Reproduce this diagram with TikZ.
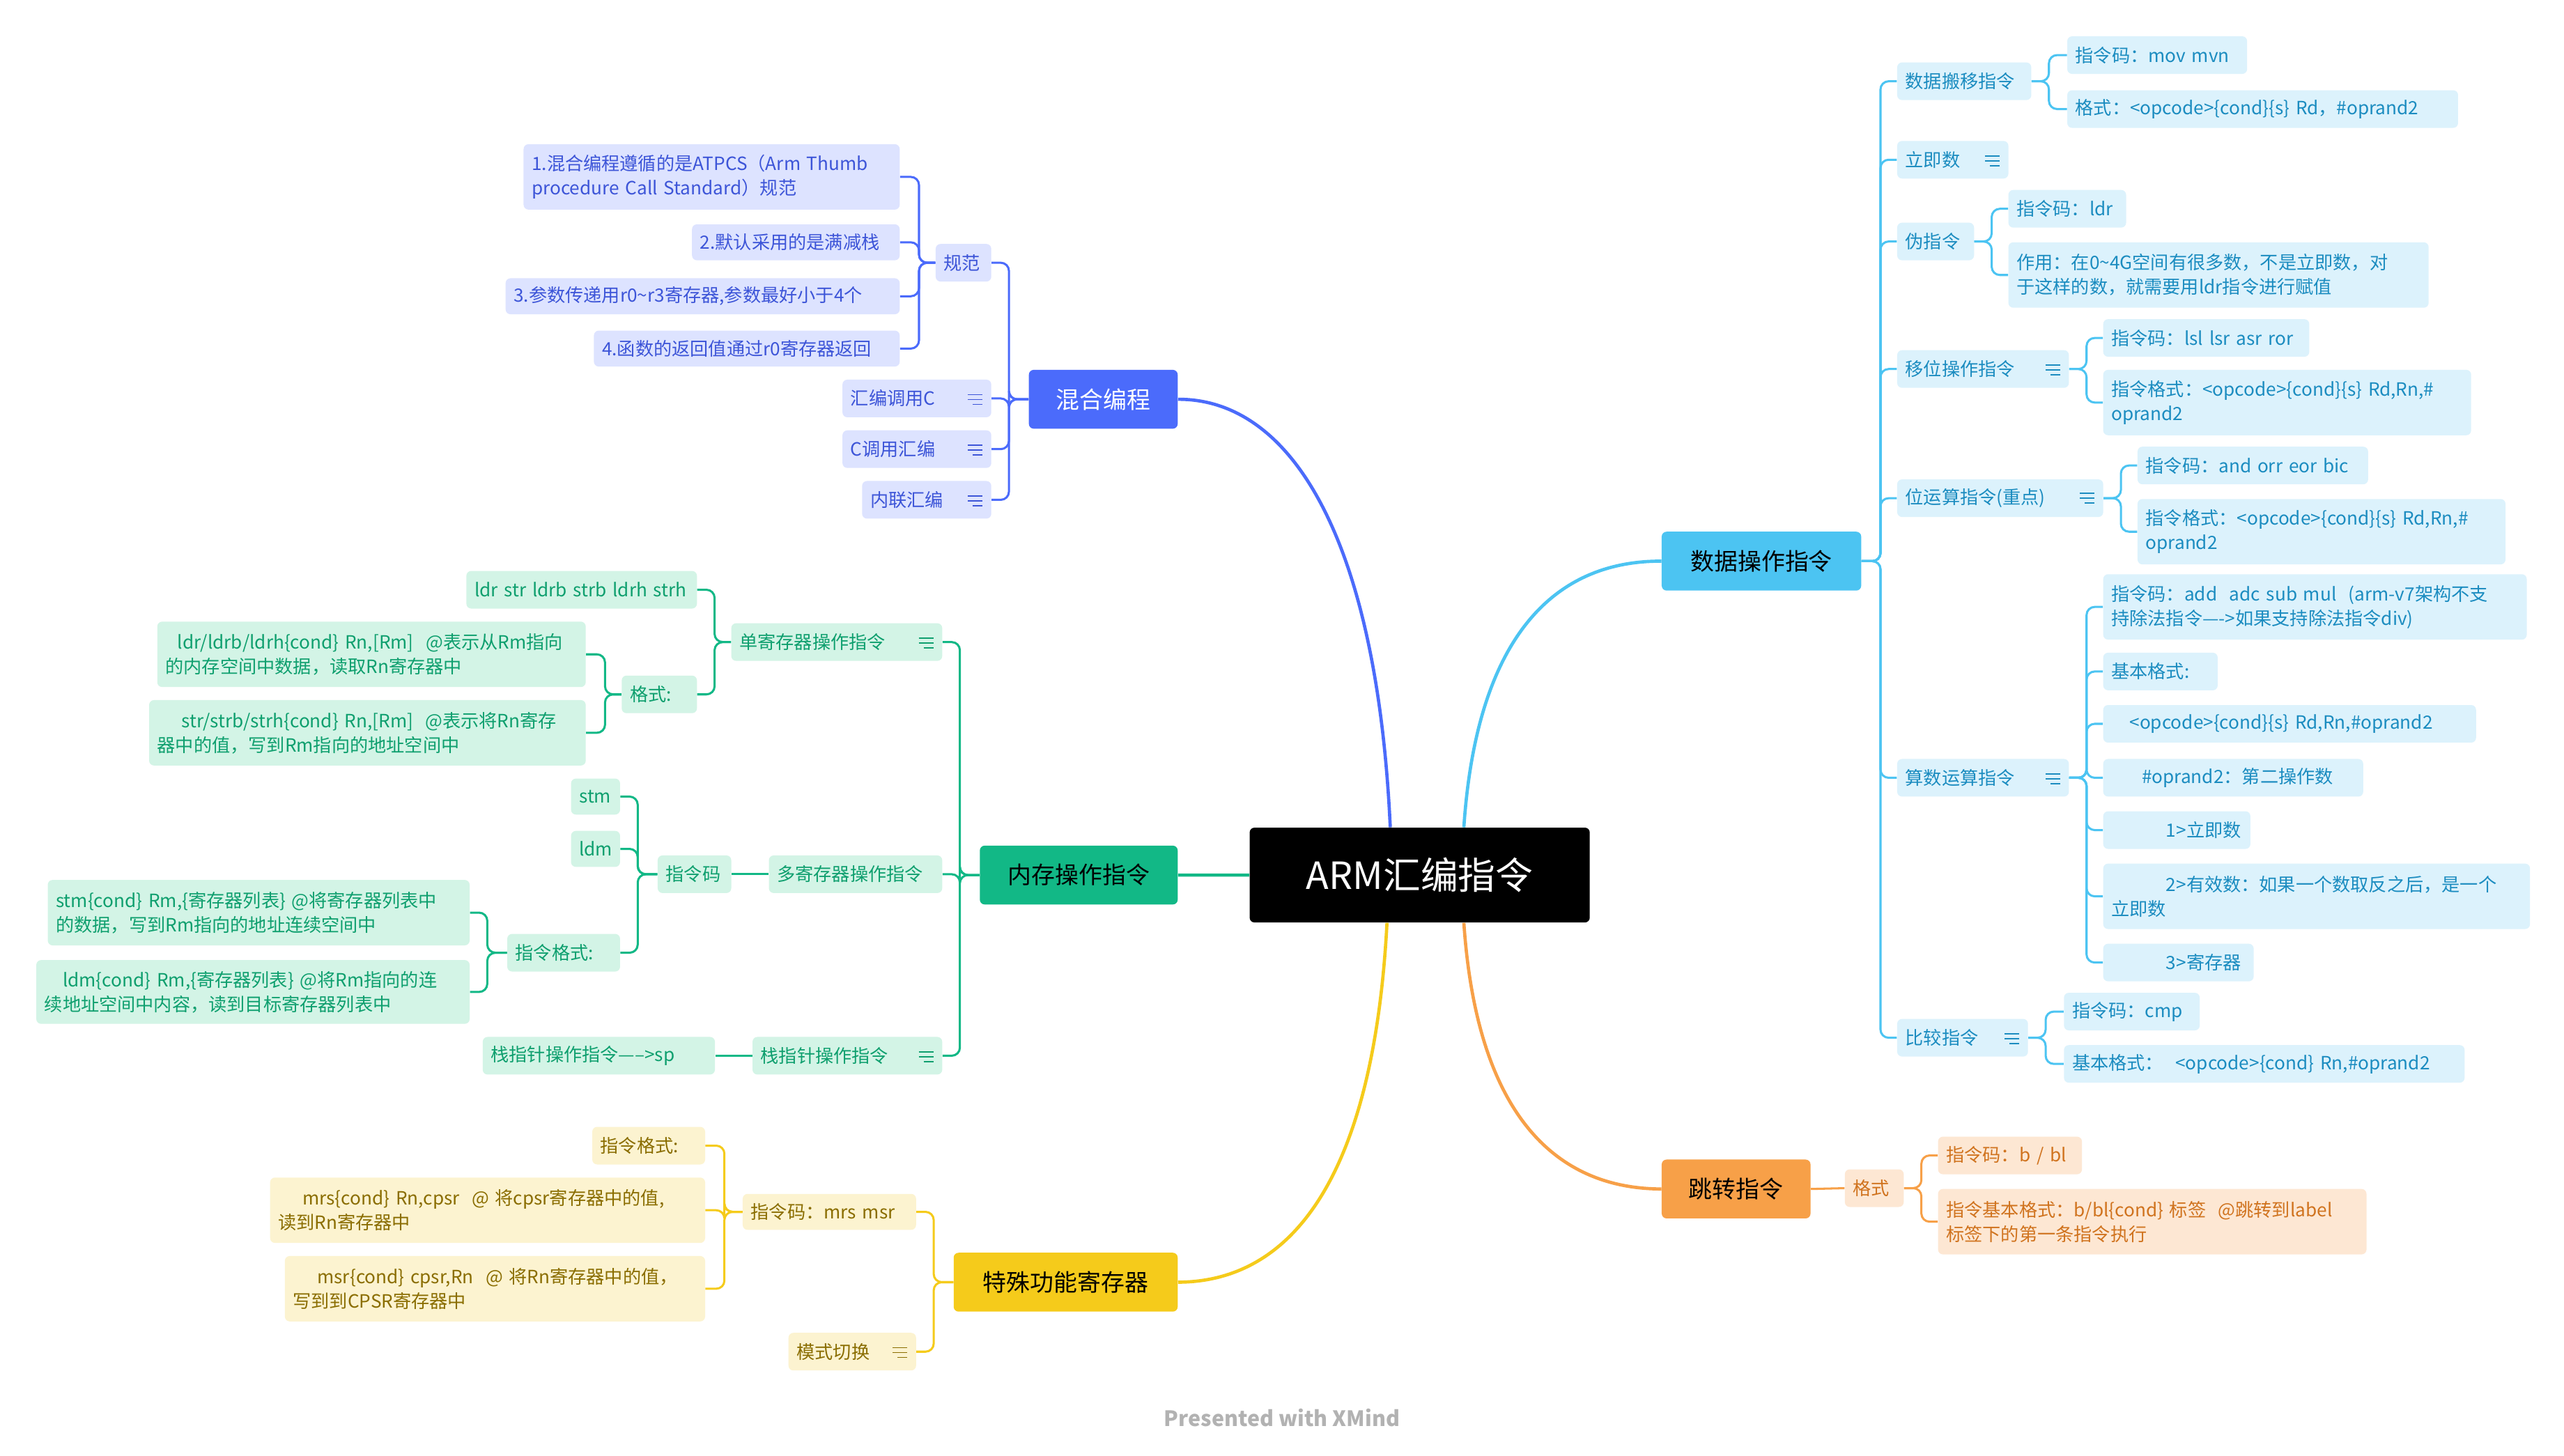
\documentclass[tikz,border=0pt]{standalone}
\usepackage{fontspec}
\setmainfont{Noto Sans CJK SC}
\usetikzlibrary{calc}
\definecolor{bM}{HTML}{4B6BFB}\definecolor{bF}{HTML}{DDE3FF}\definecolor{bT}{HTML}{3D55D8}
\definecolor{gM}{HTML}{12B886}\definecolor{gF}{HTML}{D3F4E6}\definecolor{gT}{HTML}{0E9F6E}
\definecolor{yM}{HTML}{F5CB1B}\definecolor{yF}{HTML}{FCF3D0}\definecolor{yT}{HTML}{8A6D00}
\definecolor{cM}{HTML}{4CC4F2}\definecolor{cF}{HTML}{DCF2FC}\definecolor{cT}{HTML}{1B8CC0}
\definecolor{oM}{HTML}{F7A048}\definecolor{oF}{HTML}{FDE7D3}\definecolor{oT}{HTML}{D0731E}
\newcommand\mi{\tikz[baseline=-0.6ex]{\draw[line width=0.7pt] (0,3pt)--(9pt,3pt) (0,0)--(9pt,0) (3pt,-3pt)--(9pt,-3pt);}}
\newcommand\bx[7]{\pgfmathsetmacro\tw{#4-#2-10}\pgfmathsetmacro\bh{#5-#3}%
  \node[#6,anchor=north west,text width=\tw bp,minimum height=\bh bp] (#1) at (#2,#3) {#7};}
\tikzset{
 sub/.style={rounded corners=3pt,inner xsep=5bp,inner ysep=0pt,align=left,font=\fontsize{11.2}{15}\selectfont},
 sb/.style={sub,fill=bF,text=bT}, sg/.style={sub,fill=gF,text=gT}, sy/.style={sub,fill=yF,text=yT},
 sc/.style={sub,fill=cF,text=cT}, so/.style={sub,fill=oF,text=oT},
 mainb/.style={rounded corners=3pt,inner sep=0pt,align=center,font=\fontsize{14.5}{17}\selectfont},
 lb/.style={draw=bM,line width=1.3pt,rounded corners=5pt},
 lg/.style={draw=gM,line width=1.3pt,rounded corners=5pt},
 ly/.style={draw=yM,line width=1.3pt,rounded corners=5pt},
 lc/.style={draw=cM,line width=1.3pt,rounded corners=5pt},
 lo/.style={draw=oM,line width=1.3pt,rounded corners=5pt},
}
\newcommand\lkl[4]{\draw[#4] (#1.west) -- (#1.west -| #3,0) |- (#2.east);}
\newcommand\lkr[4]{\draw[#4] (#1.east) -- (#1.east -| #3,0) |- (#2.west);}
\begin{document}
\begin{tikzpicture}[x=1bp,y=-1bp]
\useasboundingbox[fill=white] (0,0) rectangle (1568,890.5);
\node[fill=black,text=white,minimum width=208bp,minimum height=58bp,rounded corners=3pt,font=\fontsize{23}{26}\selectfont,anchor=north west] (c) at (764,506) {ARM汇编指令};
\node[mainb,fill=bM,text=white,minimum width=91bp,minimum height=36bp,anchor=north west] (hb) at (629,226) {混合编程};
\node[mainb,fill=gM,text=black,minimum width=121bp,minimum height=36bp,anchor=north west] (nc) at (599,517) {内存操作指令};
\node[mainb,fill=yM,text=black,minimum width=137bp,minimum height=36bp,anchor=north west] (ts) at (583,766) {特殊功能寄存器};
\node[mainb,fill=cM,text=black,minimum width=122bp,minimum height=36bp,anchor=north west] (sj) at (1016,325) {数据操作指令};
\node[mainb,fill=oM,text=black,minimum width=91bp,minimum height=36bp,anchor=north west] (tz) at (1016,709) {跳转指令};
\draw[bM,line width=2pt] ($(c.north)+(-18,0)$) .. controls (842,330) and (790,244) .. (hb.east);
\draw[cM,line width=2pt] ($(c.north)+(27,0)$) .. controls (903,390) and (950,343) .. (sj.west);
\draw[yM,line width=2pt] ($(c.south)+(-20,0)$) .. controls (840,720) and (790,784) .. (ts.east);
\draw[oM,line width=2pt] ($(c.south)+(27,0)$) .. controls (903,680) and (950,727) .. (tz.west);
\draw[gM,line width=2pt] (c.west) -- (nc.east);
% ---- 混合编程
\bx{gf}{572}{149}{606}{172}{sb}{规范}
\bx{h1}{515}{232}{606}{255}{sb}{汇编调用C\hfill\mi}
\bx{h2}{515}{263}{606}{286}{sb}{C调用汇编\hfill\mi}
\bx{h3}{527}{294}{606}{317}{sb}{内联汇编\hfill\mi}
\bx{g1}{320}{88}{550}{128}{sb}{1.混合编程遵循的是ATPCS（Arm Thumb\\procedure Call Standard）规范}
\bx{g2}{423}{137}{550}{159}{sb}{2.默认采用的是满减栈}
\bx{g3}{309}{170}{550}{192}{sb}{3.参数传递用r0\char`~r3寄存器,参数最好小于4个}
\bx{g4}{363}{202}{550}{224}{sb}{4.函数的返回值通过r0寄存器返回}
\foreach \n in {gf,h1,h2,h3}{\lkl{hb}{\n}{617}{lb}}
\foreach \n in {g1,g2,g3,g4}{\lkl{gf}{\n}{562}{lb}}
% ---- 内存操作指令
\bx{d1}{447}{381}{576}{404}{sg}{单寄存器操作指令\hfill\mi}
\bx{d2}{470}{523}{576}{546}{sg}{多寄存器操作指令}
\bx{d3}{460}{634}{576}{657}{sg}{栈指针操作指令\hfill\mi}
\foreach \n in {d1,d2,d3}{\lkl{nc}{\n}{587}{lg}}
\bx{e1}{285}{349}{426}{372}{sg}{ldr str ldrb strb ldrh strh}
\bx{e2}{380}{413}{426}{436}{sg}{格式:}
\foreach \n in {e1,e2}{\lkl{d1}{\n}{437}{lg}}
\bx{f1}{96}{380}{358}{420}{sg}{\ \ ldr/ldrb/ldrh\{cond\} Rn,[Rm]\ \ @表示从Rm指向\\的内存空间中数据，读取Rn寄存器中}
\bx{f2}{91}{428}{358}{468}{sg}{\ \ \ \ str/strb/strh\{cond\} Rn,[Rm]\ \ @表示将Rn寄存\\器中的值，写到Rm指向的地址空间中}
\foreach \n in {f1,f2}{\lkl{e2}{\n}{370}{lg}}
\bx{k0}{402}{523}{447}{546}{sg}{指令码}
\draw[lg] (d2.west) -- (k0.east);
\bx{k1}{349}{476}{379}{498}{sg}{stm}
\bx{k2}{349}{508}{379}{530}{sg}{ldm}
\bx{k3}{310}{571}{379}{594}{sg}{指令格式:}
\foreach \n in {k1,k2,k3}{\lkl{k0}{\n}{390}{lg}}
\bx{m1}{29}{538}{287}{578}{sg}{stm\{cond\} Rm,\{寄存器列表\} @将寄存器列表中\\的数据，写到Rm指向的地址连续空间中}
\bx{m2}{22}{587}{287}{626}{sg}{\ \ \ ldm\{cond\} Rm,\{寄存器列表\} @将Rm指向的连\\续地址空间中内容，读到目标寄存器列表中}
\foreach \n in {m1,m2}{\lkl{k3}{\n}{298}{lg}}
\bx{s1}{295}{634}{437}{657}{sg}{栈指针操作指令----->sp}
\draw[lg] (d3.west) -- (s1.east);
% ---- 特殊功能寄存器
\bx{t1}{454}{730}{560}{752}{sy}{指令码：mrs msr}
\bx{t2}{482}{815}{560}{838}{sy}{模式切换\hfill\mi}
\foreach \n in {t1,t2}{\lkl{ts}{\n}{571}{ly}}
\bx{u1}{362}{689}{431}{712}{sy}{指令格式:}
\bx{u2}{165}{720}{431}{760}{sy}{\ \ \ \ mrs\{cond\} Rn,cpsr\ \ @ 将cpsr寄存器中的值,\\读到Rn寄存器中}
\bx{u3}{174}{768}{431}{808}{sy}{\ \ \ \ msr\{cond\} cpsr,Rn\ \ @ 将Rn寄存器中的值，\\写到到CPSR寄存器中}
\foreach \n in {u1,u2,u3}{\lkl{t1}{\n}{443}{ly}}
% ---- 数据操作指令
\bx{a1}{1160}{38}{1242}{61}{sc}{数据搬移指令}
\bx{a2}{1160}{86}{1228}{109}{sc}{立即数\hfill\mi}
\bx{a3}{1160}{136}{1207}{159}{sc}{伪指令}
\bx{a4}{1160}{214}{1265}{237}{sc}{移位操作指令\hfill\mi}
\bx{a5}{1160}{293}{1286}{316}{sc}{位运算指令(重点)\hfill\mi}
\bx{a6}{1160}{464}{1265}{487}{sc}{算数运算指令\hfill\mi}
\bx{a7}{1160}{623}{1240}{646}{sc}{比较指令\hfill\mi}
\foreach \n in {a1,a2,a3,a4,a5,a6,a7}{\lkr{sj}{\n}{1150}{lc}}
\bx{b1}{1264}{22}{1374}{45}{sc}{指令码：mov mvn}
\bx{b2}{1264}{55}{1503}{78}{sc}{格式：<opcode>\{cond\}\{s\} Rd，\#oprand2}
\foreach \n in {b1,b2}{\lkr{a1}{\n}{1253}{lc}}
\bx{p1}{1228}{116}{1300}{139}{sc}{指令码：ldr}
\bx{p2}{1228}{148}{1485}{188}{sc}{作用：在0\char`~4G空间有很多数，不是立即数，对\\于这样的数，就需要用ldr指令进行赋值}
\foreach \n in {p1,p2}{\lkr{a3}{\n}{1218}{lc}}
\bx{q1}{1286}{195}{1412}{218}{sc}{指令码：lsl lsr asr ror}
\bx{q2}{1286}{226}{1511}{266}{sc}{指令格式：<opcode>\{cond\}\{s\} Rd,Rn,\#\\oprand2}
\foreach \n in {q1,q2}{\lkr{a4}{\n}{1276}{lc}}
\bx{r1}{1307}{273}{1448}{296}{sc}{指令码：and orr eor bic}
\bx{r2}{1307}{305}{1532}{345}{sc}{指令格式：<opcode>\{cond\}\{s\} Rd,Rn,\#\\oprand2}
\foreach \n in {r1,r2}{\lkr{a5}{\n}{1297}{lc}}
\bx{v1}{1286}{351}{1545}{391}{sc}{指令码：add\ \ adc sub mul\ \ (arm-v7架构不支\\持除法指令---->如果支持除法指令div)}
\bx{v2}{1286}{399}{1356}{422}{sc}{基本格式:}
\bx{v3}{1286}{431}{1514}{454}{sc}{\ \ \ <opcode>\{cond\}\{s\} Rd,Rn,\#oprand2}
\bx{v4}{1286}{464}{1445}{487}{sc}{\ \ \ \ \ \#oprand2：第二操作数}
\bx{v5}{1286}{496}{1376}{519}{sc}{\ \ \ \ \ \ \ \ \ 1>立即数}
\bx{v6}{1286}{528}{1547}{568}{sc}{\ \ \ \ \ \ \ \ \ 2>有效数：如果一个数取反之后，是一个\\立即数}
\bx{v7}{1286}{577}{1378}{600}{sc}{\ \ \ \ \ \ \ \ \ 3>寄存器}
\foreach \n in {v1,v2,v3,v4,v5,v6,v7}{\lkr{a6}{\n}{1276}{lc}}
\bx{w1}{1262}{607}{1345}{630}{sc}{指令码：cmp}
\bx{w2}{1262}{639}{1507}{662}{sc}{基本格式：\ \ <opcode>\{cond\} Rn,\#oprand2}
\foreach \n in {w1,w2}{\lkr{a7}{\n}{1251}{lc}}
% ---- 跳转指令
\bx{j0}{1128}{715}{1164}{738}{so}{格式}
\draw[lo] (tz.east) -- (j0.west);
\bx{j1}{1185}{695}{1273}{718}{so}{指令码：b / bl}
\bx{j2}{1185}{727}{1447}{767}{so}{指令基本格式：b/bl\{cond\} 标签\ \ @跳转到label\\标签下的第一条指令执行}
\foreach \n in {j1,j2}{\lkr{j0}{\n}{1175}{lo}}
\node[text=black!30,font=\fontsize{13}{15}\selectfont\bfseries] (ft) at (784,867) {Presented with XMind};
\end{tikzpicture}
\end{document}
